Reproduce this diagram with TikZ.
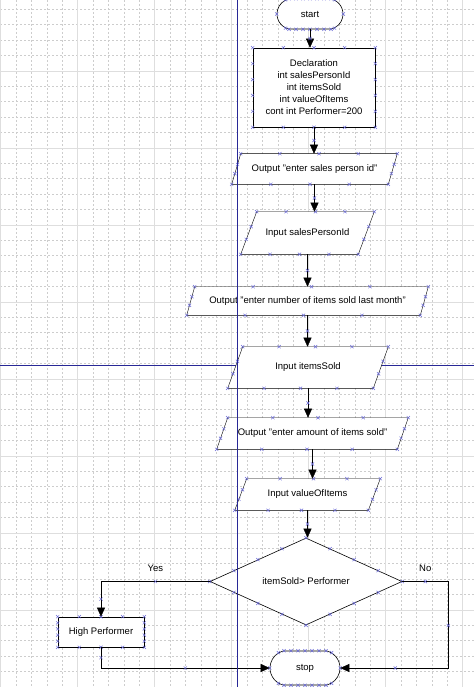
\documentclass[tikz,border=0pt]{standalone}
\usepackage{fontspec}
\setmainfont{Liberation Sans}
\usetikzlibrary{arrows.meta,shapes.geometric,shapes.misc,calc}
\pgfdeclarelayer{background}
\pgfsetlayers{background,main}
\definecolor{minorgray}{RGB}{205,205,205}
\definecolor{majorgray}{RGB}{222,222,222}
\definecolor{pageblue}{RGB}{40,40,150}
\definecolor{markblue}{RGB}{105,105,215}

\begin{document}
\begin{tikzpicture}[x=1pt,y=-1pt,->,>={Triangle[width=8pt,length=9pt]},semithick,
            font=\fontsize{9.5}{12}\selectfont,
            term/.style={draw,fill=white,rounded rectangle,rounded rectangle arc length=150,
              minimum width=66pt,minimum height=30pt,inner sep=0pt},
            proc/.style={draw,fill=white,rectangle,inner sep=0pt},
            io/.style={rectangle,inner sep=0pt},
            dec/.style={draw,fill=white,diamond,aspect=2.2,inner sep=0pt},
            lbl/.style={above=6pt},
            xm/.pic={\draw[-,markblue,line width=0.45pt] (-1.6,-1.6) -- (1.6,1.6) (-1.6,1.6) -- (1.6,-1.6);}]

          \useasboundingbox (0,0) rectangle (474,687);

          \node[term]         (A) at (310,  14) {start};
          \node[proc,minimum width=122pt,minimum height=79pt,align=center]
                              (B) at (314,  87.5) {Declaration\\int salesPersonId\\int itemsSold\\int valueOfItems\\cont int Performer=200};
          \node[io,minimum width=165pt,minimum height=30pt] (C) at (314.5,169)   {Output "enter sales person id"};
          \node[io,minimum width=133pt,minimum height=42pt] (D) at (307.5,233)   {Input salesPersonId};
          \node[io,minimum width=241pt,minimum height=28pt] (E) at (307.5,301)   {Output "enter number of items sold last month"};
          \node[io,minimum width=160pt,minimum height=41pt] (F) at (308,  367.5) {Input itemsSold};
          \node[io,minimum width=191pt,minimum height=31pt] (G) at (312.5,433.5) {Output "enter amount of items sold"};
          \node[io,minimum width=145pt,minimum height=31pt] (H) at (307.5,494.5) {Input valueOfItems};
          \node[dec,minimum width=192pt,minimum height=87pt] (I) at (306,  581.5) {itemSold> Performer};
          \node[proc,minimum width=86pt,minimum height=30pt] (J) at (101,  632)   {High Performer};
          \node[term,minimum width=70pt,minimum height=34pt] (K) at (305,  668)   {stop};

          % grid, page break and the slanted in/out boxes go behind
          \begin{pgfonlayer}{background}
            \fill[white] (0,0) rectangle (474,687);
            \foreach \i in {0,...,30}
              \draw[-,minorgray,line width=0.5pt,dash pattern=on 2pt off 2pt] ({0.7+15.4*\i},0) -- ({0.7+15.4*\i},687);
            \foreach \i in {1,...,45}
              \draw[-,minorgray,line width=0.5pt,dash pattern=on 2pt off 2pt] (0,{-6.1+15.4*\i}) -- (474,{-6.1+15.4*\i});
            \foreach \i in {0,...,6}
              \draw[-,majorgray,line width=0.6pt] ({0.7+77*\i},0) -- ({0.7+77*\i},687);
            \foreach \i in {1,...,9}
              \draw[-,majorgray,line width=0.6pt] (0,{-6.1+77*\i}) -- (474,{-6.1+77*\i});
            \draw[-,pageblue,thick] (0,365) -- (474,365);
            \foreach \n/\s in {C/9,D/16,E/8,F/15,G/11,H/12} {
              \draw[-,fill=white] (\n.south west) -- ([xshift=-\s pt]\n.south east)
                -- (\n.north east) -- ([xshift=\s pt]\n.north west) -- cycle;
              \foreach \t in {0,0.25,0.5,0.75,1}
                \path ($([xshift=\s pt]\n.north west)!\t!(\n.north east)$) pic {xm}
                      ($(\n.south west)!\t!([xshift=-\s pt]\n.south east)$) pic {xm};
              \foreach \t in {0.35,0.65}
                \path ($(\n.south west)!\t!([xshift=\s pt]\n.north west)$) pic {xm}
                      ($([xshift=-\s pt]\n.south east)!\t!(\n.north east)$) pic {xm};
            }
          \end{pgfonlayer}

          % connection marks on the other shapes
          \foreach \n in {B,J} {
            \foreach \t in {0,0.25,0.5,0.75,1}
              \path ($(\n.north west)!\t!(\n.north east)$) pic {xm}
                    ($(\n.south west)!\t!(\n.south east)$) pic {xm};
            \foreach \t in {0.2,0.4,0.6,0.8}
              \path ($(\n.north west)!\t!(\n.south west)$) pic {xm}
                    ($(\n.north east)!\t!(\n.south east)$) pic {xm};
          }
          \foreach \t in {0,0.25,0.5,0.75}
            \path ($(I.north)!\t!(I.west)$) pic {xm} ($(I.west)!\t!(I.south)$) pic {xm}
                  ($(I.south)!\t!(I.east)$) pic {xm} ($(I.east)!\t!(I.north)$) pic {xm};
          \foreach \n in {A,K} {
            \foreach \d in {-21,-14,-7,0,7,14,21}
              \path ([xshift=\d pt]\n.north) pic {xm} ([xshift=\d pt]\n.south) pic {xm};
            \foreach \a in {150,180,210,330,0,30}
              \path (\n.\a) pic {xm};
          }

          \draw (A.south) -- pic {xm} (A.south |- B.north);
          \draw (B.south) -- pic {xm} (B.south |- C.north);
          \draw (C.south) -- pic {xm} (C.south |- D.north);
          \draw (D.south) -- pic {xm} (D.south |- E.north);
          \draw (E.south) -- pic {xm} (E.south |- F.north);
          \draw (F.south) -- pic {xm} (F.south |- G.north);
          \draw (G.south) -- pic {xm} (G.south |- H.north);
          \draw (H.south) -- pic {xm} (H.south |- I.north);

          \draw (I.west) -- node[lbl] {Yes} pic {xm} (I.west -| J) -- pic {xm} (J.north);
          \draw (J.south) -- pic {xm} (J.south |- K.west) -- pic {xm} (K.west);
          \draw (I.east) -- node[lbl] {No} pic {xm} ++(46,0) |- (K.east);
          \path ($(I.east)+(46,44)$) pic {xm} ($(K.east)+(55,0)$) pic {xm};

          \draw[-,pageblue,thick] (237,0) -- (237,687);
        \end{tikzpicture}
\end{document}
